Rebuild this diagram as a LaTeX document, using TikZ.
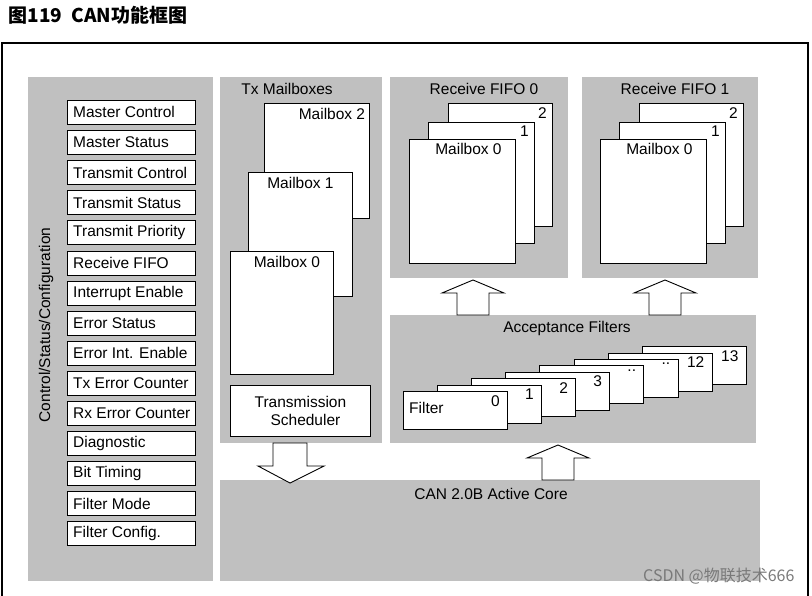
\documentclass[tikz,border=0pt]{standalone}
\usepackage{fontspec}
\setmainfont{Liberation Sans}
\newfontfamily\cjk{Noto Sans CJK SC}
\begin{document}
\begin{tikzpicture}[x=1pt,y=-1pt,
  panel/.style={fill=panelgray,draw=none},
  box/.style={draw=black,fill=white,line width=0.9pt,inner sep=0pt,anchor=north west},
  reg/.style={box,minimum width=128pt,minimum height=24pt},
  lbl/.style={font=\fontsize{15.5}{17}\selectfont,inner sep=0pt},
  hollow/.style={draw=black,fill=white,line width=0.9pt}]
\definecolor{panelgray}{RGB}{192,192,192}
\useasboundingbox (0,0) rectangle (812,595);
\node[anchor=west,font=\fontsize{19}{21}\selectfont\bfseries\cjk] (title) at (5,15) {图119\hspace{0.5em}CAN功能框图};
\draw[line width=1.4pt] (2,600) -- (2,43) -- (808,43) -- (808,600);
% panels
\fill[panelgray] (28,77) rectangle (213,581);
\fill[panelgray] (220,77) rectangle (382,443);
\fill[panelgray] (390,77) rectangle (568,278);
\fill[panelgray] (582,77) rectangle (758,278);
\fill[panelgray] (390,315) rectangle (756,443);
\fill[panelgray] (220,480) rectangle (760,581);
% left registers
\node[lbl,rotate=90] (csc) at (46,325) {Control/Status/Configuration};
\foreach \t [count=\i from 0] in {Master Control,Master Status,Transmit Control,Transmit Status,Transmit Priority,Receive FIFO,Interrupt Enable,Error Status,Error Int. Enable,Tx Error Counter,Rx Error Counter,Diagnostic,Bit Timing,Filter Mode,Filter Config.}{
  \node[reg] (r\i) at (67,{100+30.1*\i}) {};
  \node[lbl,anchor=west] (rt\i) at ([xshift=6pt]r\i.west) {\t};
}
% Tx mailboxes
\node[lbl] (txt) at (287,89) {Tx Mailboxes};
\node[box,minimum width=105pt,minimum height=115pt] (tm2) at (264,103) {};
\node[lbl,anchor=north] at ([yshift=-5pt]tm2.north) {\hspace{30pt}Mailbox 2};
\node[box,minimum width=104pt,minimum height=124pt] (tm1) at (248,172) {};
\node[lbl,anchor=north] at ([yshift=-5pt]tm1.north) {Mailbox 1};
\node[box,minimum width=103pt,minimum height=123pt] (tm0) at (230,251) {};
\node[lbl,anchor=north] at ([yshift=-5pt]tm0.north) {\hspace{10pt}Mailbox 0};
\node[box,minimum width=140pt,minimum height=51pt,align=center,font=\fontsize{15.5}{18}\selectfont] (ts) at (230,385) {Transmission\\\hspace{10pt}Scheduler};
% FIFOs
\foreach \dx/\n in {0/0,191/1}{
  \node[lbl] (ft\n) at ({484+\dx},89) {Receive FIFO \n};
  \node[box,minimum width=104pt,minimum height=123pt] (fb2\n) at ({448+\dx},103) {};
  \node[lbl,anchor=north east] at ([xshift=-6pt,yshift=-4pt]fb2\n.north east) {2};
  \node[box,minimum width=106pt,minimum height=121pt] (fb1\n) at ({428+\dx},122) {};
  \node[lbl,anchor=north east] at ([xshift=-6pt,yshift=-4pt]fb1\n.north east) {1};
  \node[box,minimum width=106pt,minimum height=124pt] (fb0\n) at ({409+\dx},139) {};
  \node[lbl,anchor=north] at ([yshift=-4pt]fb0\n.north) {\hspace{12pt}Mailbox 0};
}
% Filters
\node[lbl] (aft) at (567,328) {Acceptance Filters};
\foreach \t [count=\i from 0] in {13,12,..,..,3,2,1,0}{
  \pgfmathsetmacro{\k}{7-\i}
  \node[box,minimum width=104pt,minimum height=38pt] (f\i) at ({403+34.1*\k},{391-6.4*\k}) {};
  \node[lbl,anchor=north east] at ([xshift=-8pt,yshift=-4pt]f\i.north east) {\t};
}
\node[lbl,anchor=west] (filt) at ([xshift=6pt,yshift=2pt]f7.west) {Filter};
% core
\node[lbl] (core) at (491,494) {CAN 2.0B Active Core};
% hollow arrows
\draw[hollow] (273,443) -- (307,443) -- (307,466) -- (324,466) -- (290,483) -- (258,466) -- (273,466) -- cycle;
\foreach \cx/\ty/\by in {473/280/315,665/280/315,558/445/480}{
  \draw[hollow] (\cx-16,\by) -- (\cx-16,\by-22) -- (\cx-31,\by-22) -- (\cx,\ty) -- (\cx+31,\by-22) -- (\cx+16,\by-22) -- (\cx+16,\by) -- cycle;
}
\node[anchor=east,text=gray!95!black,font=\fontsize{16}{18}\selectfont\cjk] (wm) at (798,576) {CSDN @物联技术666};
\end{tikzpicture}
\end{document}
